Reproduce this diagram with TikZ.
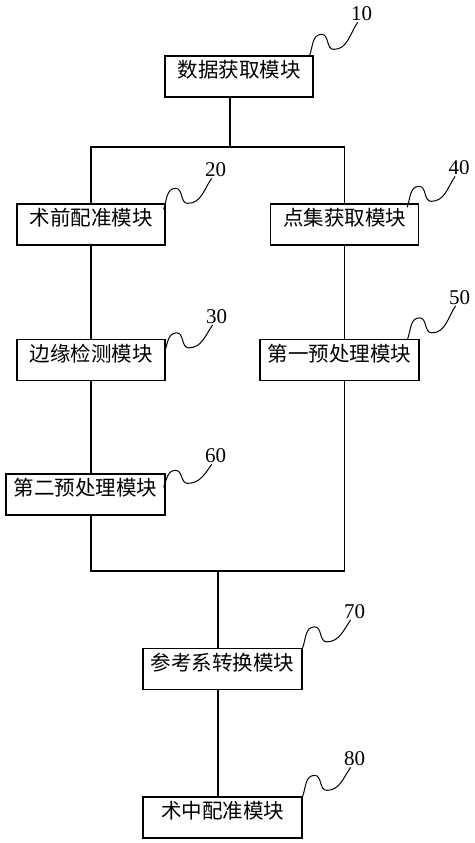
\documentclass[tikz,border=0pt]{standalone}
\usepackage{fontspec}
\setmainfont{Liberation Serif}
\newfontfamily\cjk{Noto Sans CJK SC}
\usetikzlibrary{calc}
\tikzset{
module/.style={draw, line width=1.3pt, inner sep=3pt, minimum height=41pt,
    text height=18.8pt, text depth=16.2pt, font=\cjk\fontsize{20.5}{24}\selectfont},
narrow/.style={module, minimum width=148pt},
wide/.style={module, minimum width=159pt},
link/.style={line width=1.3pt},
tag/.style={line width=1pt},
num/.style={anchor=south, inner sep=1pt, xshift=4pt, font=\fontsize{21}{24}\selectfont},
}
\tikzstyle{every node}=[font=\fontsize{21}{24}\selectfont]

\begin{document}
\begin{tikzpicture}[x=1pt,y=1pt]
        \useasboundingbox (0,0) rectangle (474,-843);

        \node[narrow] (data) at (239,-76.5) {数据获取模块};
        \node[narrow] (pre) at (91,-224.5) {术前配准模块};
        \node[narrow] (pts) at (344.5,-224.5) {点集获取模块};
        \node[narrow] (edge) at (91,-360) {边缘检测模块};
        \node[wide] (first) at (339.5,-360) {第一预处理模块};
        \node[wide] (second) at (85.5,-494.5) {第二预处理模块};
        \node[wide] (ref) at (222.5,-669) {参考系转换模块};
        \node[wide] (intra) at (222.5,-817.5) {术中配准模块};

        \coordinate (split) at (230,-147);
        \coordinate (merge) at (218,-571);

        \draw[link] (data.south -| split) -- (split);
        \draw[link] (pre.north) |- (split) -| (pts.north);
        \draw[link] (pre.south) -- (edge.north);
        \draw[link] (pts.south) -- (pts.south |- first.north);
        \draw[link] (edge.south) -- (edge.south |- second.north);
        \draw[link] (second.south -| edge) |- (merge) -| (first.south -| pts);
        \draw[link] (merge) -- (merge |- ref.north);
        \draw[link] (ref.south -| merge) -- (merge |- intra.north);

        \draw[tag] ($(data.north east)+(-4,0)$) to[out=70,in=180] ++(12,21)
            to[out=0,in=180] ++(12,-15) to[out=0,in=235] ++(24,27) node[num] {10};
        \draw[tag] ($(pre.north east)+(-2,-6)$) to[out=70,in=180] ++(12,21)
            to[out=0,in=180] ++(12,-15) to[out=0,in=235] ++(24,25) node[num] {20};
        \draw[tag] ($(pts.north east)+(-12,-4)$) to[out=70,in=180] ++(12,21)
            to[out=0,in=180] ++(12,-15) to[out=0,in=235] ++(24,25) node[num] {40};
        \draw[tag] ($(edge.north east)+(-1,-13)$) to[out=70,in=180] ++(12,19)
            to[out=0,in=180] ++(12,-15) to[out=0,in=235] ++(24,23) node[num] {30};
        \draw[tag] ($(first.north east)+(-12,0)$) to[out=70,in=180] ++(12,21)
            to[out=0,in=180] ++(12,-15) to[out=0,in=235] ++(24,27) node[num] {50};
        \draw[tag] ($(second.north east)+(-2,-14)$) to[out=70,in=180] ++(12,17)
            to[out=0,in=180] ++(12,-13) to[out=0,in=235] ++(24,19) node[num] {60};
        \draw[tag] (ref.north east) to[out=70,in=180] ++(12,21)
            to[out=0,in=180] ++(12,-15) to[out=0,in=235] ++(24,22) node[num] {70};
        \draw[tag] (intra.north east) to[out=70,in=180] ++(12,21)
            to[out=0,in=180] ++(12,-15) to[out=0,in=235] ++(24,23) node[num] {80};
    \end{tikzpicture}
\end{document}
